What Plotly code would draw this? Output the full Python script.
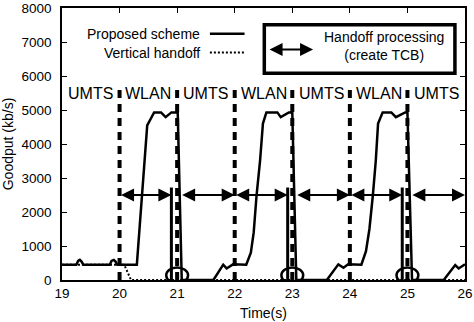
import plotly.graph_objects as go

# Goodput of the proposed scheme (kb/s) over time (s)
t_prop = [19.0, 19.25, 19.28, 19.31, 19.34, 19.37, 19.83, 19.86, 19.9, 19.93, 19.96,
          20.3, 20.48, 20.6, 20.72, 20.8, 20.9, 21.01, 21.08,
          21.63, 21.8, 21.86, 21.97,
          22.2, 22.28, 22.33, 22.38, 22.44, 22.49, 22.55, 22.74, 22.8, 22.94, 23.0, 23.07,
          23.6, 23.8, 23.89, 23.97,
          24.2, 24.28, 24.34, 24.4, 24.45, 24.49, 24.57, 24.72, 24.8, 24.96, 25.0, 25.08,
          25.63, 25.83, 25.89, 26.0]
g_prop = [450, 450, 560, 590, 540, 450, 450, 560, 590, 540, 450,
          450, 4550, 4930, 4930, 4790, 4930, 4930, 0,
          0, 450, 340, 460,
          450, 800, 1400, 2500, 3500, 4600, 4930, 4930, 4790, 4930, 4930, 0,
          0, 460, 360, 460,
          450, 850, 1500, 2500, 3500, 4600, 4930, 4930, 4790, 4930, 4930, 0,
          0, 440, 340, 460]

# Goodput with plain vertical handoff
t_vh = [19.0, 20.08, 20.2, 26.0]
g_vh = [450, 450, 0, 0]

# Network switch instants and the network in use between them
switch_t = [20, 21, 22, 23, 24, 25]
networks = ["UMTS", "WLAN", "UMTS", "WLAN", "UMTS", "WLAN", "UMTS"]
network_mid = [19.5, 20.5, 21.5, 22.5, 23.5, 24.5, 25.5]
label_level = 5500
switch_top = 5650

# Handoff processing (create TCB) intervals
proc_start = [20.0, 21.06, 22.0, 23.06, 24.0, 25.06]
proc_end = [20.9, 22.0, 22.92, 24.0, 24.91, 26.0]
proc_level = 2500
# End of TCB creation marks
tcb_done = [20.9, 22.92, 24.91]
tcb_mark_top = 2720
# Handoffs back to UMTS (circled)
handoff_t = [21, 23, 25]

FONT = "Liberation Sans, Arial, sans-serif"

fig = go.Figure()

# vertical dashed switch lines
xs, ys = [], []
for t in switch_t:
    xs += [t, t, None]
    ys += [0, switch_top, None]
fig.add_trace(go.Scatter(x=xs, y=ys, mode="lines",
                         line=dict(color="black", width=4, dash="8px,6px"),
                         hoverinfo="skip", showlegend=False))

# TCB-completion marks
xs, ys = [], []
for t in tcb_done:
    xs += [t, t, None]
    ys += [0, tcb_mark_top, None]
fig.add_trace(go.Scatter(x=xs, y=ys, mode="lines",
                         line=dict(color="black", width=3),
                         hoverinfo="skip", showlegend=False))

fig.add_trace(go.Scatter(x=t_vh, y=g_vh, mode="lines", name="Vertical handoff",
                         line=dict(color="black", width=2, dash="2px,2px"),
                         showlegend=False))
fig.add_trace(go.Scatter(x=t_prop, y=g_prop, mode="lines", name="Proposed scheme",
                         line=dict(color="black", width=2.5),
                         showlegend=False))

annotations = []
for name, xm in zip(networks, network_mid):
    annotations.append(dict(x=xm, y=label_level, text=name, showarrow=False,
                            xanchor="center", yanchor="middle",
                            font=dict(size=16, color="black", family=FONT)))

for a, b in zip(proc_start, proc_end):
    annotations.append(dict(x=b, y=proc_level, ax=a, ay=proc_level,
                            xref="x", yref="y", axref="x", ayref="y",
                            text="", showarrow=True, arrowside="end+start",
                            arrowhead=2, arrowsize=1.3, arrowwidth=2,
                            arrowcolor="black"))

shapes = []
for t in handoff_t:
    shapes.append(dict(type="circle", xref="x", yref="y",
                       x0=t - 0.19, x1=t + 0.19, y0=-96, y1=370,
                       line=dict(color="black", width=2.5)))

# key (text on the left, sample on the right)
annotations += [
    dict(xref="paper", yref="paper", x=0.347, y=0.905, xanchor="right",
         yanchor="middle", text="Proposed scheme", showarrow=False,
         font=dict(size=14, color="black", family=FONT)),
    dict(xref="paper", yref="paper", x=0.347, y=0.836, xanchor="right",
         yanchor="middle", text="Vertical handoff", showarrow=False,
         font=dict(size=14, color="black", family=FONT)),
]
shapes += [
    dict(type="line", xref="paper", yref="paper", x0=0.367, x1=0.453,
         y0=0.905, y1=0.905, line=dict(color="black", width=2.5)),
    dict(type="line", xref="paper", yref="paper", x0=0.367, x1=0.453,
         y0=0.836, y1=0.836, line=dict(color="black", width=2, dash="2px,2px")),
]

# boxed key for the handoff-processing arrow
shapes.append(dict(type="rect", xref="paper", yref="paper",
                   x0=0.502, x1=0.975, y0=0.76, y1=0.938,
                   line=dict(color="black", width=3.5)))
annotations.append(dict(xref="paper", yref="paper", x=0.623, y=0.847,
                        ax=-45, ay=0, axref="pixel", ayref="pixel",
                        text="", showarrow=True, arrowside="end+start",
                        arrowhead=2, arrowsize=1.3, arrowwidth=2,
                        arrowcolor="black"))
annotations.append(dict(xref="paper", yref="paper", x=0.80, y=0.86,
                        xanchor="center", yanchor="middle",
                        text="Handoff processing<br>(create TCB)",
                        showarrow=False,
                        font=dict(size=14, color="black", family=FONT)))

axis_common = dict(showline=True, linecolor="black", linewidth=1.5,
                   mirror="ticks", ticks="inside", ticklen=5, tickwidth=1.2,
                   tickcolor="black", showgrid=False, zeroline=False,
                   ticklabeloverflow="allow", automargin=False,
                   tickfont=dict(size=13.5, color="black", family=FONT))

fig.update_layout(
    width=474, height=322,
    margin=dict(l=62, r=9, t=8, b=42),
    paper_bgcolor="white", plot_bgcolor="white",
    font=dict(family=FONT, color="black"),
    xaxis=dict(range=[19, 26], dtick=1, tick0=19, ticklabelstandoff=0,
               title=dict(text="Time(s)", font=dict(size=14), standoff=8),
               **axis_common),
    yaxis=dict(range=[0, 8000], dtick=1000, tick0=0, ticklabelstandoff=6,
               title=dict(text="Goodput (kb/s)", font=dict(size=14), standoff=6),
               **axis_common),
    annotations=annotations,
    shapes=shapes,
)

fig.write_html("out.html")
